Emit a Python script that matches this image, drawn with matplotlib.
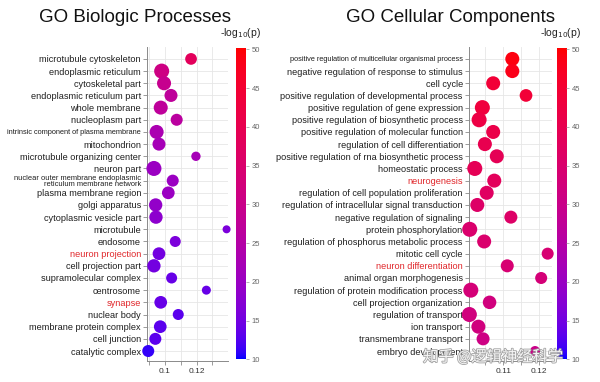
import numpy as np
import matplotlib
matplotlib.use("Agg")
import matplotlib.pyplot as plt
from matplotlib.colors import ListedColormap, Normalize
import matplotlib.patheffects as pe
from matplotlib.ticker import FixedLocator, FuncFormatter

plt.rcParams['font.family'] = ['Liberation Sans', 'DejaVu Sans']

# ---------------- data ----------------
bp_terms = [
    "microtubule cytoskeleton", "endoplasmic reticulum", "cytoskeletal part",
    "endoplasmic reticulum part", "whole membrane", "nucleoplasm part",
    "intrinsic component of plasma membrane", "mitochondrion",
    "microtubule organizing center", "neuron part",
    "nuclear outer membrane endoplasmic\nreticulum membrane network",
    "plasma membrane region", "golgi apparatus", "cytoplasmic vesicle part",
    "microtubule", "endosome", "neuron projection", "cell projection part",
    "supramolecular complex", "centrosome", "synapse", "nuclear body",
    "membrane protein complex", "cell junction", "catalytic complex",
]
bp_ratio = [0.1165, 0.0979, 0.0994, 0.1038, 0.0973, 0.1074, 0.0947, 0.0962,
            0.1196, 0.0930, 0.1049, 0.1021, 0.0941, 0.0943, 0.1390, 0.1065,
            0.0962, 0.0930, 0.1042, 0.1262, 0.0973, 0.1084, 0.0970, 0.0939,
            0.0894]
bp_logp = [38, 31, 29, 27, 27, 26, 23, 22, 22, 20, 20, 20, 19, 18, 16, 16,
           15, 15, 14, 14, 14, 13, 13, 13, 11]
bp_count = [137, 225, 196, 169, 196, 144, 196, 169, 87, 225, 144, 161, 177,
            177, 64, 121, 161, 177, 121, 81, 161, 121, 161, 144, 144]

cc_terms = [
    "positive regulation of multicellular organismal process",
    "negative regulation of response to stimulus", "cell cycle",
    "positive regulation of developmental process",
    "positive regulation of gene expression",
    "positive regulation of biosynthetic process",
    "positive regulation of molecular function",
    "regulation of cell differentiation",
    "positive regulation of rna biosynthetic process",
    "homeostatic process", "neurogenesis",
    "regulation of cell population proliferation",
    "regulation of intracellular signal transduction",
    "negative regulation of signaling", "protein phosphorylation",
    "regulation of phosphorus metabolic process", "mitotic cell cycle",
    "neuron differentiation", "animal organ morphogenesis",
    "regulation of protein modification process",
    "cell projection organization", "regulation of transport",
    "ion transport", "transmembrane transport", "embryo development",
]
cc_ratio = [0.1125, 0.1125, 0.1072, 0.1163, 0.1042, 0.1033, 0.1072, 0.1049,
            0.1082, 0.1021, 0.1075, 0.1054, 0.1028, 0.1121, 0.1007, 0.1047,
            0.1223, 0.1111, 0.1205, 0.1010, 0.1062, 0.1006, 0.1031, 0.1044,
            0.1188]
cc_logp = [49, 48, 44, 44, 43, 42, 41, 40, 39, 39, 38, 37, 36, 36, 35, 35,
           34, 34, 33, 33, 32, 32, 32, 31, 30]
cc_count = [196, 196, 196, 161, 225, 225, 196, 196, 196, 225, 196, 196, 196,
            169, 225, 196, 144, 169, 144, 225, 182, 225, 196, 169, 100]

highlight = ["neuron projection", "synapse", "neurogenesis", "neuron differentiation"]
cbar_ticks = [10, 15, 20, 25, 30, 35, 40, 45, 50]

# ---------------- colormap: blue -> red interpolated in Lab ----------------
def _srgb_to_lin(c):
    c = np.asarray(c, float)
    return np.where(c <= 0.04045, c / 12.92, ((c + 0.055) / 1.055) ** 2.4)

def _lin_to_srgb(c):
    c = np.clip(c, 0, 1)
    return np.where(c <= 0.0031308, 12.92 * c, 1.055 * c ** (1 / 2.4) - 0.055)

_M = np.array([[0.4124, 0.3576, 0.1805], [0.2126, 0.7152, 0.0722], [0.0193, 0.1192, 0.9505]])
_Wn = np.array([0.95047, 1.0, 1.08883])

def _to_lab(rgb):
    xyz = _M @ _srgb_to_lin(rgb) / _Wn
    f = np.where(xyz > 0.008856, np.cbrt(xyz), 7.787 * xyz + 16 / 116)
    return np.array([116 * f[1] - 16, 500 * (f[0] - f[1]), 200 * (f[1] - f[2])])

def _from_lab(lab):
    fy = (lab[0] + 16) / 116
    fx = fy + lab[1] / 500
    fz = fy - lab[2] / 200
    f = np.array([fx, fy, fz])
    xyz = np.where(f ** 3 > 0.008856, f ** 3, (f - 16 / 116) / 7.787) * _Wn
    return _lin_to_srgb(np.linalg.inv(_M) @ xyz)

lab_lo, lab_hi = _to_lab([0, 0, 1]), _to_lab([1, 0, 0])
cols = [_from_lab(lab_lo + t * (lab_hi - lab_lo)) for t in np.linspace(0, 1, 256)]
cmap = ListedColormap(cols)
norm = Normalize(10, 50)

# ---------------- figure ----------------
fig = plt.figure(figsize=(6.0, 3.82), dpi=100)
W, H = 600.0, 382.0

def fx(px):
    return px / W

def fy(py):
    return 1 - py / H

axis_col = "#8a8a8a"
grid_col = "#e6e6e6"
label_col = "#1e1e1e"
red_col = "#e0262a"

def panel(x0, x1, terms, ratio, logp, count, xlim, ticks, labeled, cbx0, cbx1, title, title_x):
    ax = fig.add_axes([fx(x0), fy(361), fx(x1 - x0), fy(47) - fy(361)])
    n = len(terms)
    ys = np.arange(n)[::-1]
    ax.scatter(ratio, ys, s=np.asarray(count) * 0.52, c=logp, cmap=cmap, norm=norm,
               linewidths=0, zorder=3, clip_on=False)
    ax.set_xlim(*xlim)
    ax.set_ylim(-0.82, n - 1 + 0.98)
    ax.xaxis.set_major_locator(FixedLocator(ticks))
    ax.xaxis.set_major_formatter(FuncFormatter(
        lambda v, p: ("%g" % round(v, 4)) if any(abs(v - l) < 1e-9 for l in labeled) else ""))
    ax.set_yticks(ys)
    ax.set_yticklabels(terms)
    ax.grid(True, color=grid_col, linewidth=0.6, zorder=0)
    ax.set_axisbelow(True)
    for s in ("top", "right"):
        ax.spines[s].set_visible(False)
    for s in ("left", "bottom"):
        ax.spines[s].set_color(axis_col)
        ax.spines[s].set_linewidth(0.7)
    ax.tick_params(axis="both", colors=axis_col, length=3, width=0.6, pad=1.5)
    ax.tick_params(axis="x", labelsize=6, labelcolor="#333333", pad=2)
    ax.tick_params(axis="y", labelsize=6.6, labelcolor=label_col)
    for lab in ax.get_yticklabels():
        t = lab.get_text()
        if t in highlight:
            lab.set_color(red_col)
        if t.startswith("nuclear outer"):
            lab.set_fontsize(5.4)
            lab.set_linespacing(0.85)
        if t.startswith("intrinsic component") or t.startswith("positive regulation of multicellular"):
            lab.set_fontsize(5.35)
    # colorbar
    cax = fig.add_axes([fx(cbx0), fy(361), fx(cbx1 - cbx0), fy(47) - fy(361)])
    grad = np.linspace(10, 50, 256).reshape(-1, 1)
    cax.imshow(grad, aspect="auto", cmap=cmap, norm=norm, origin="lower",
               extent=[0, 1, 10, 50])
    cax.set_xlim(0, 1)
    cax.set_ylim(9.8, 50.3)
    cax.set_xticks([])
    cax.yaxis.tick_right()
    cax.set_yticks(cbar_ticks)
    cax.tick_params(axis="y", colors="#999999", length=2, width=0.5, labelsize=5.5,
                    labelcolor="#666666", pad=2)
    for s in cax.spines.values():
        s.set_visible(False)
    fig.text(fx((cbx0 + cbx1) / 2 - 1), fy(33), r"-log$_{10}$(p)", ha="center", va="center",
             fontsize=7.5, color="#222222")
    fig.text(fx(title_x), fy(17), title, ha="center", va="center", fontsize=13.5,
             color="#111111")
    return ax

panel(147.3, 228, bp_terms, bp_ratio, bp_logp, bp_count, (0.0888, 0.1399),
      [0.09, 0.10, 0.11, 0.12, 0.13], [0.10, 0.12], 236, 246,
      "GO Biologic Processes", 135)
panel(469, 552, cc_terms, cc_ratio, cc_logp, cc_count, (0.1005, 0.1235),
      [0.105, 0.11, 0.115, 0.12], [0.11, 0.12], 556.5, 566,
      "GO Cellular Components", 451)

# watermark
fig.text(fx(423), fy(357), "知乎 @逻辑神经科学", fontsize=11,
         family=["Noto Sans CJK SC", "DejaVu Sans"], color="white", alpha=0.9,
         ha="left", va="center", zorder=10,
         path_effects=[pe.withStroke(linewidth=1.2, foreground="#9a9a9a")])

fig.savefig("out.png", dpi=100)
